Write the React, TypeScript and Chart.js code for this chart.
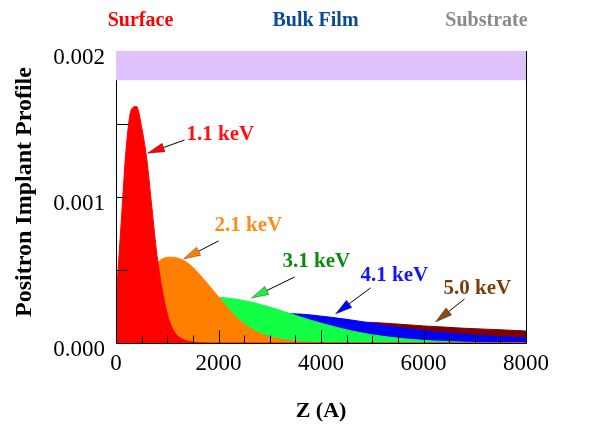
import { useEffect, useRef } from "react";
import { Chart, registerables } from "chart.js";

Chart.register(...registerables);

// Depth (Angstrom)
const depthValues = [
  0, 100, 200, 300, 400, 500, 600, 700, 800, 900, 1000, 1100, 1200, 1300, 1400, 1500, 1600, 1700, 1800, 1900, 2000,
  2200, 2400, 2600, 2800, 3000, 3200, 3400, 3600, 3800, 4000, 4200, 4400, 4600, 4800, 5000, 5200, 5400, 5600, 5800,
  6000, 6200, 6400, 6600, 6800, 7000, 7200, 7400, 7600, 7800, 8000,
];

const profile11 = [
  0.00028, 0.00082, 0.00134, 0.0016, 0.00162, 0.00148, 0.00126, 0.00093, 0.0006, 0.00037, 0.0002, 0.0001, 0.00005,
  0.000025, 0.000012, 0.000006, 0.000003, 0.000001, 0, 0, 0,
  0, 0, 0, 0, 0, 0, 0, 0, 0, 0, 0, 0, 0, 0, 0, 0, 0, 0, 0, 0, 0, 0, 0, 0, 0, 0, 0, 0, 0, 0,
];

const profile21 = [
  0, 0.000091, 0.00018, 0.000264, 0.000341, 0.000409, 0.000467, 0.000515, 0.00055, 0.000575, 0.000587, 0.000588,
  0.000582, 0.000568, 0.000547, 0.000518, 0.000482, 0.000442, 0.0004, 0.000358, 0.000316,
  0.000232, 0.00016, 0.000106, 0.000068, 0.000043, 0.000027, 0.000016, 0.000009, 0.000005, 0.0000025, 0.0000012,
  0, 0, 0, 0, 0, 0, 0, 0, 0, 0, 0, 0, 0, 0, 0, 0, 0, 0, 0,
];

const profile31 = [
  0, 0.0000264, 0.0000526, 0.0000784, 0.0001036, 0.000128, 0.0001513, 0.0001735, 0.0001944, 0.0002139, 0.0002317,
  0.0002479, 0.0002624, 0.000275, 0.0002857, 0.0002946, 0.0003017, 0.0003068, 0.0003105, 0.0003125, 0.000313,
  0.000307, 0.000297, 0.000283, 0.000266, 0.000246, 0.000224, 0.000201, 0.000178, 0.000156, 0.000136, 0.000117,
  0.0000985, 0.0000825, 0.0000685, 0.0000565, 0.000046, 0.000037, 0.0000295, 0.0000232, 0.000018, 0.0000138,
  0.0000104, 0.0000078, 0.0000057, 0.0000041, 0.0000029, 0.000002, 0.0000014, 0.0000009, 0.0000006,
];

const profile41 = [
  0, 0.0000108, 0.0000215, 0.0000322, 0.0000428, 0.0000532, 0.0000635, 0.0000736, 0.0000834, 0.000093, 0.0001023,
  0.0001112, 0.0001198, 0.0001281, 0.0001359, 0.0001434, 0.0001504, 0.000157, 0.000163, 0.0001687, 0.0001739,
  0.0001828, 0.0001898, 0.000195, 0.000199, 0.000201, 0.000202, 0.000201, 0.000198, 0.000192, 0.000184, 0.000176,
  0.000167, 0.000157, 0.000146, 0.000135, 0.000124, 0.000113, 0.000103, 0.000094, 0.000085, 0.000077, 0.00007,
  0.000064, 0.000058, 0.000053, 0.000049, 0.000045, 0.000042, 0.000039, 0.000036,
];

const profile50 = [
  0, 0.0000057, 0.0000114, 0.0000172, 0.0000228, 0.0000284, 0.000034, 0.0000395, 0.000045, 0.0000503, 0.0000556,
  0.0000608, 0.0000659, 0.0000709, 0.0000757, 0.0000805, 0.0000851, 0.0000896, 0.0000939, 0.0000981, 0.0001021,
  0.0001096, 0.0001165, 0.0001226, 0.000128, 0.0001327, 0.0001367, 0.0001398, 0.0001422, 0.0001439, 0.0001449,
  0.0001451, 0.0001447, 0.0001437, 0.0001421, 0.000141, 0.000137, 0.000132, 0.000127, 0.000122, 0.000117, 0.000113,
  0.000109, 0.000105, 0.000101, 0.000098, 0.000095, 0.000092, 0.000089, 0.0000855, 0.000082,
];

const seriesValues = [profile11, profile21, profile31, profile41, profile50];
const seriesLabels = ["1.1 keV", "2.1 keV", "3.1 keV", "4.1 keV", "5.0 keV"];
const seriesColors = ["#ff0000", "#ff8000", "#11ff44", "#0000ff", "#800000"];
const labelColors = ["#ff1010", "#ff8c1a", "#0b8a0b", "#1414ff", "#7a3c08"];
const headColors = ["#ff0000", "#ff8000", "#22ee44", "#0000ff", "#8b4a10"];

// annotation anchors (data coordinates)
const labelAnchorZ = [1376, 1922, 3249, 4771, 6390];
const labelAnchorV = [0.001428, 0.000801, 0.000555, 0.000459, 0.00037];
const arrowStartZ = [1337, 2000, 3483, 4966, 6800];
const arrowStartV = [0.00139, 0.000699, 0.000452, 0.000377, 0.000301];
const arrowTipZ = [615, 1317, 2644, 4283, 6234];
const arrowTipV = [0.0013, 0.000575, 0.000308, 0.000199, 0.000144];

const regionTitles = ["Surface", "Bulk Film", "Substrate"];
const regionColors = ["#ff0000", "#0a4a96", "#8a8a8a"];
const regionCenterZ = [478, 3893, 7229];

const bandMin = 0.0018;
const bandMax = 0.002;
const xMin = 0;
const xMax = 8000;
const xTickStep = 2000;
const xMinorStep = 500;
const yTickStep = 0.001;
const yMinorStep = 0.0005;

const SERIF = '"Liberation Serif", "Times New Roman", serif';

const decorPlugin = {
  id: "decor",
  beforeDatasetsDraw(chart: any) {
    const { ctx, scales } = chart;
    const x = scales.x;
    const y = scales.y;
    ctx.save();
    ctx.fillStyle = "#dfc1fb";
    const top = y.getPixelForValue(bandMax);
    const bot = y.getPixelForValue(bandMin);
    const l = x.getPixelForValue(xMin);
    const r = x.getPixelForValue(xMax);
    ctx.fillRect(l, top, r - l, bot - top);
    ctx.restore();
  },
  afterDatasetsDraw(chart: any) {
    const { ctx, scales } = chart;
    const x = scales.x;
    const y = scales.y;
    ctx.save();
    const l = Math.round(x.getPixelForValue(xMin)) + 0.5;
    const r = Math.round(x.getPixelForValue(xMax)) + 0.5;
    const b = Math.round(y.getPixelForValue(0)) + 0.5;
    const bandBottom = y.getPixelForValue(bandMin);
    const t = y.getPixelForValue(bandMax);
    ctx.strokeStyle = "#000";
    ctx.lineWidth = 1;
    ctx.beginPath();
    ctx.moveTo(l, bandBottom);
    ctx.lineTo(l, b);
    ctx.lineTo(r, b);
    ctx.lineTo(r, t);
    ctx.stroke();

    // x ticks (inward)
    ctx.beginPath();
    for (let z = xMin + xMinorStep; z < xMax; z += xMinorStep) {
      const px = Math.round(x.getPixelForValue(z)) + 0.5;
      const len = z % xTickStep === 0 ? 13 : 8;
      ctx.moveTo(px, b);
      ctx.lineTo(px, b - len);
    }
    // y ticks (inward)
    for (let v = yMinorStep; v < bandMin; v += yMinorStep) {
      const py = Math.round(y.getPixelForValue(v)) + 0.5;
      ctx.moveTo(l, py);
      ctx.lineTo(l + 12, py);
    }
    ctx.stroke();

    // arrows
    for (let i = 0; i < seriesLabels.length; i++) {
      const sx = x.getPixelForValue(arrowStartZ[i]);
      const sy = y.getPixelForValue(arrowStartV[i]);
      const tx = x.getPixelForValue(arrowTipZ[i]);
      const ty = y.getPixelForValue(arrowTipV[i]);
      const dx = tx - sx;
      const dy = ty - sy;
      const d = Math.hypot(dx, dy);
      const ux = dx / d;
      const uy = dy / d;
      const hl = 17;
      const hw = 4.5;
      const bx = tx - ux * hl;
      const by = ty - uy * hl;
      ctx.strokeStyle = "#000";
      ctx.lineWidth = 1;
      ctx.beginPath();
      ctx.moveTo(sx, sy);
      ctx.lineTo(bx, by);
      ctx.stroke();
      ctx.beginPath();
      ctx.moveTo(tx, ty);
      ctx.lineTo(bx - uy * hw, by + ux * hw);
      ctx.lineTo(bx + uy * hw, by - ux * hw);
      ctx.closePath();
      ctx.fillStyle = headColors[i];
      ctx.fill();
      ctx.lineWidth = 0.6;
      ctx.strokeStyle = "rgba(0,0,0,0.6)";
      ctx.stroke();

      ctx.fillStyle = labelColors[i];
      ctx.font = `bold 21px ${SERIF}`;
      ctx.textAlign = "left";
      ctx.textBaseline = "middle";
      ctx.fillText(seriesLabels[i], x.getPixelForValue(labelAnchorZ[i]), y.getPixelForValue(labelAnchorV[i]));
    }
    ctx.restore();
  },
  afterDraw(chart: any) {
    const { ctx, scales, chartArea } = chart;
    const x = scales.x;
    ctx.save();
    ctx.textAlign = "center";
    ctx.textBaseline = "middle";
    ctx.font = `bold 20px ${SERIF}`;
    for (let i = 0; i < regionTitles.length; i++) {
      ctx.fillStyle = regionColors[i];
      ctx.fillText(regionTitles[i], x.getPixelForValue(regionCenterZ[i]), 21);
    }
    ctx.fillStyle = "#000";
    ctx.font = `bold 22px ${SERIF}`;
    ctx.fillText("Z (A)", (chartArea.left + chartArea.right) / 2, 411);
    ctx.translate(25, 192);
    ctx.rotate(-Math.PI / 2);
    ctx.font = `bold 24px ${SERIF}`;
    ctx.fillText("Positron Implant Profile", 0, 0);
    ctx.restore();
  },
};

export default function App() {
  const ref = useRef<HTMLCanvasElement>(null);
  useEffect(() => {
    if (!ref.current) return;
    const chart = new Chart(ref.current, {
      type: "line",
      data: {
        datasets: seriesValues.map((vals, i) => ({
          label: seriesLabels[i],
          data: depthValues.map((z, j) => ({ x: z, y: vals[j] })),
          borderColor: seriesColors[i],
          backgroundColor: seriesColors[i],
          fill: "origin",
          borderWidth: 1,
          pointRadius: 0,
          cubicInterpolationMode: "monotone" as const,
        })),
      },
      options: {
        animation: false,
        responsive: false,
        devicePixelRatio: 1,
        layout: { padding: { top: 51, right: 70, left: 0, bottom: 0 } },
        plugins: { legend: { display: false }, tooltip: { enabled: false } },
        scales: {
          x: {
            type: "linear",
            min: xMin,
            max: xMax,
            grid: { display: false, drawTicks: false },
            border: { display: false },
            ticks: {
              stepSize: xTickStep,
              autoSkip: false,
              maxRotation: 0,
              padding: 7,
              color: "#000",
              font: { family: SERIF, size: 23 },
              callback: (v: any) => String(v),
            },
            afterFit: (s: any) => {
              s.height = 91;
            },
          },
          y: {
            type: "linear",
            min: 0,
            max: 0.002,
            grid: { display: false, drawTicks: false },
            border: { display: false },
            ticks: {
              stepSize: yTickStep,
              padding: 11,
              labelOffset: 7,
              color: "#000",
              font: { family: SERIF, size: 23 },
              callback: (v: any) => Number(v).toFixed(3),
            },
            afterFit: (s: any) => {
              s.width = 116;
            },
          },
        },
      },
      plugins: [decorPlugin],
    });
    return () => chart.destroy();
  }, []);
  return (
    <div style={{ position: "absolute", left: 0, top: 0, width: 596, height: 434, background: "#fff" }}>
      <canvas ref={ref} width={596} height={434} style={{ display: "block" }} />
    </div>
  );
}
